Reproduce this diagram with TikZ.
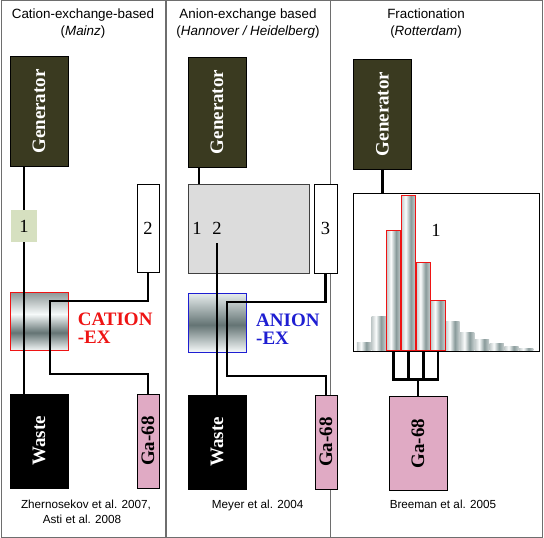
\documentclass[tikz,border=0pt]{standalone}
\usepackage{graphicx}
\usepackage{fontspec}
\setmainfont{Liberation Serif}
\newfontfamily\hv{Liberation Sans}
\definecolor{gencol}{RGB}{58,58,32}
\definecolor{pinkcol}{RGB}{224,170,196}
\definecolor{onecol}{RGB}{214,224,192}
\definecolor{graybox}{RGB}{220,220,220}
\definecolor{framecol}{RGB}{110,110,110}
\definecolor{catred}{RGB}{238,20,20}
\definecolor{anblue}{RGB}{30,30,210}
\definecolor{shA}{RGB}{240,244,244}
\definecolor{shD}{RGB}{100,116,116}
\definecolor{shL}{RGB}{246,250,250}
\definecolor{shT}{RGB}{140,150,150}
\definecolor{shE}{RGB}{232,238,238}
\definecolor{brL}{RGB}{196,204,204}
\definecolor{brW}{RGB}{250,252,252}
\definecolor{brD}{RGB}{136,154,154}
\definecolor{brR}{RGB}{200,208,208}
\pgfdeclareverticalshading{cationshade}{100bp}{color(0bp)=(shA); color(25bp)=(shA); color(40bp)=(shD); color(56bp)=(shL); color(75bp)=(shT); color(100bp)=(shT)}
\pgfdeclareverticalshading{anionshade}{100bp}{color(0bp)=(shL); color(25bp)=(shL); color(48bp)=(shD); color(75bp)=(shE); color(100bp)=(shE)}
\pgfdeclarehorizontalshading{barshade}{100bp}{color(0bp)=(brL); color(25bp)=(brL); color(40bp)=(brW); color(58bp)=(brD); color(75bp)=(brR); color(100bp)=(brR)}
\tikzset{
  box/.style={draw=black, line width=0.8pt, inner sep=0pt, minimum width=#1},
  genbox/.style={box=58pt, fill=gencol, minimum height=110pt, text=white, font=\bfseries\fontsize{19}{19}\selectfont},
  wastebox/.style={box=58pt, fill=black, minimum height=94pt, text=white, font=\bfseries\fontsize{19}{19}\selectfont},
  gabox/.style={box=22pt, fill=pinkcol, minimum height=94pt, text=black, font=\bfseries\fontsize{19}{19}\selectfont},
  numtxt/.style={inner sep=0pt, font=\fontsize{18.5}{18.5}\selectfont},
  wire/.style={line width=2.9pt, black},
  hdr/.style={anchor=base, inner sep=0pt, font=\hv\fontsize{13.4}{16}\selectfont},
  cite/.style={anchor=base, inner sep=0pt, font=\hv\fontsize{11.7}{14}\selectfont},
  extxt/.style={anchor=base west, inner sep=0pt, font=\bfseries\fontsize{19}{19}\selectfont},
  bar/.style={anchor=south west, inner sep=0pt, minimum width=14.2pt, shading=barshade},
  redbar/.style={bar, draw=catred, line width=0.9pt}
}
\begin{document}
\begin{tikzpicture}[x=1pt,y=-1pt]
\useasboundingbox (0,0) rectangle (544,538);
% frame and dividers
\draw[framecol, line width=1.3pt] (1.2,0.8) rectangle (542.8,537.2);
\draw[framecol, line width=1.2pt] (166,0) -- (166,538);
\draw[framecol, line width=1.2pt] (330.5,0) -- (330.5,538);
% headers
\node[hdr] (h1a) at (83,18) {Cation-exchange-based};
\node[hdr] (h1b) at (83,35.5) {(\textit{Mainz})};
\node[hdr] (h2a) at (248,18) {Anion-exchange based};
\node[hdr] (h2b) at (248,35.5) {(\textit{Hannover / Heidelberg})};
\node[hdr] (h3a) at (426,18) {Fractionation};
\node[hdr] (h3b) at (426,35.5) {(\textit{Rotterdam})};

% ---------------- left panel ----------------
\node[genbox] (gen1) at (39,111.5) {\rotatebox{90}{Generator}};
\node[box=58pt, draw=catred, minimum height=58pt, shading=cationshade] (cex) at (39,321) {};
\node[wastebox] (waste1) at (39,441) {\rotatebox{90}{Waste}};
\node[gabox] (ga1) at (148,441) {\rotatebox{90}{Ga-68}};
\node[box=22pt, fill=white, minimum height=88pt, numtxt] (b2) at (148,228) {2};
\coordinate (g1out) at (24,166);
\coordinate (k1) at (50,301);
\coordinate (k2) at (50,374);
\draw[wire] (g1out) -- (g1out |- waste1.north);
\node[inner sep=0pt, minimum width=26pt, minimum height=32pt, fill=onecol, numtxt] (b1) at (24,226) {1};
\draw[wire] (b2.south) |- (k1) -- (k2) -| (ga1.north);
\node[extxt, text=catred] (cat1) at (77.7,325.5) {CATION};
\node[extxt, text=catred] (cat2) at (77.7,343.5) {-EX};
\node[cite] (c1a) at (86,508.4) {Zhernosekov et al. 2007,};
\node[cite] (c1b) at (82,523.4) {Asti et al. 2008};

% ---------------- middle panel ----------------
\node[genbox] (gen2) at (217,112) {\rotatebox{90}{Generator}};
\node[box=121pt, draw=black!75, fill=graybox, minimum height=89pt] (g2) at (248.5,228.5) {};
\node[box=23pt, fill=white, minimum height=89pt, numtxt] (b3) at (325.5,228.5) {3};
\node[numtxt] (n1) at (197,228) {1};
\node[numtxt] (n2) at (217,228) {2};
\node[box=58pt, draw=anblue, minimum height=59pt, shading=anionshade] (aex) at (217,322.5) {};
\node[wastebox] (waste2) at (217,442) {\rotatebox{90}{Waste}};
\node[gabox] (ga2) at (326,442) {\rotatebox{90}{Ga-68}};
\coordinate (g2out) at (199,167);
\coordinate (w2in) at (217,243);
\coordinate (m1) at (227,302);
\coordinate (m2) at (227,376);
\draw[wire] (g2out) -- (g2out |- g2.north);
\draw[wire] (w2in) -- (waste2.north);
\draw[wire] (b3.south) |- (m1) -- (m2) -| (ga2.north);
\node[extxt, text=anblue] (an1) at (256,326) {ANION};
\node[extxt, text=anblue] (an2) at (256,344.5) {-EX};
\node[cite] (c2) at (257.7,508.5) {Meyer et al. 2004};

% ---------------- right panel ----------------
\node[genbox] (gen3) at (382.5,114) {\rotatebox{90}{Generator}};
\node[box=186pt, fill=white, minimum height=158pt] (hist) at (446,272) {};
\draw[wire] (gen3.south) -- (gen3.south |- hist.north);
\foreach \i/\t in {1/342.3, 2/316.7, 7/321.7, 8/332.7, 9/339.3, 10/343.3, 11/346.7, 12/348.3}
  \node[bar, minimum height={351-\t}] (bar\i) at ({356.7+(\i-1)*14.75},351) {};
\foreach \i/\t in {3/230.7, 4/195.7, 5/263.3, 6/301}
  \node[redbar, minimum height={351-\t}] (bar\i) at ({356.7+(\i-1)*14.75},351) {};
\node[numtxt] (n3) at (436,230) {1};
\node[gabox, minimum width=58pt] (ga3) at (418,443.7) {\rotatebox{90}{Ga-68}};
\coordinate (j) at (418,379.3);
\draw[wire] (bar3.south) |- (j) -| (bar6.south);
\draw[wire] (bar4.south) -- (bar4.south |- j);
\draw[wire] (bar5.south) -- (bar5.south |- j);
\draw[wire] (j) -- (ga3.north);
\node[cite] (c3) at (443,508.5) {Breeman et al. 2005};
\end{tikzpicture}
\end{document}
